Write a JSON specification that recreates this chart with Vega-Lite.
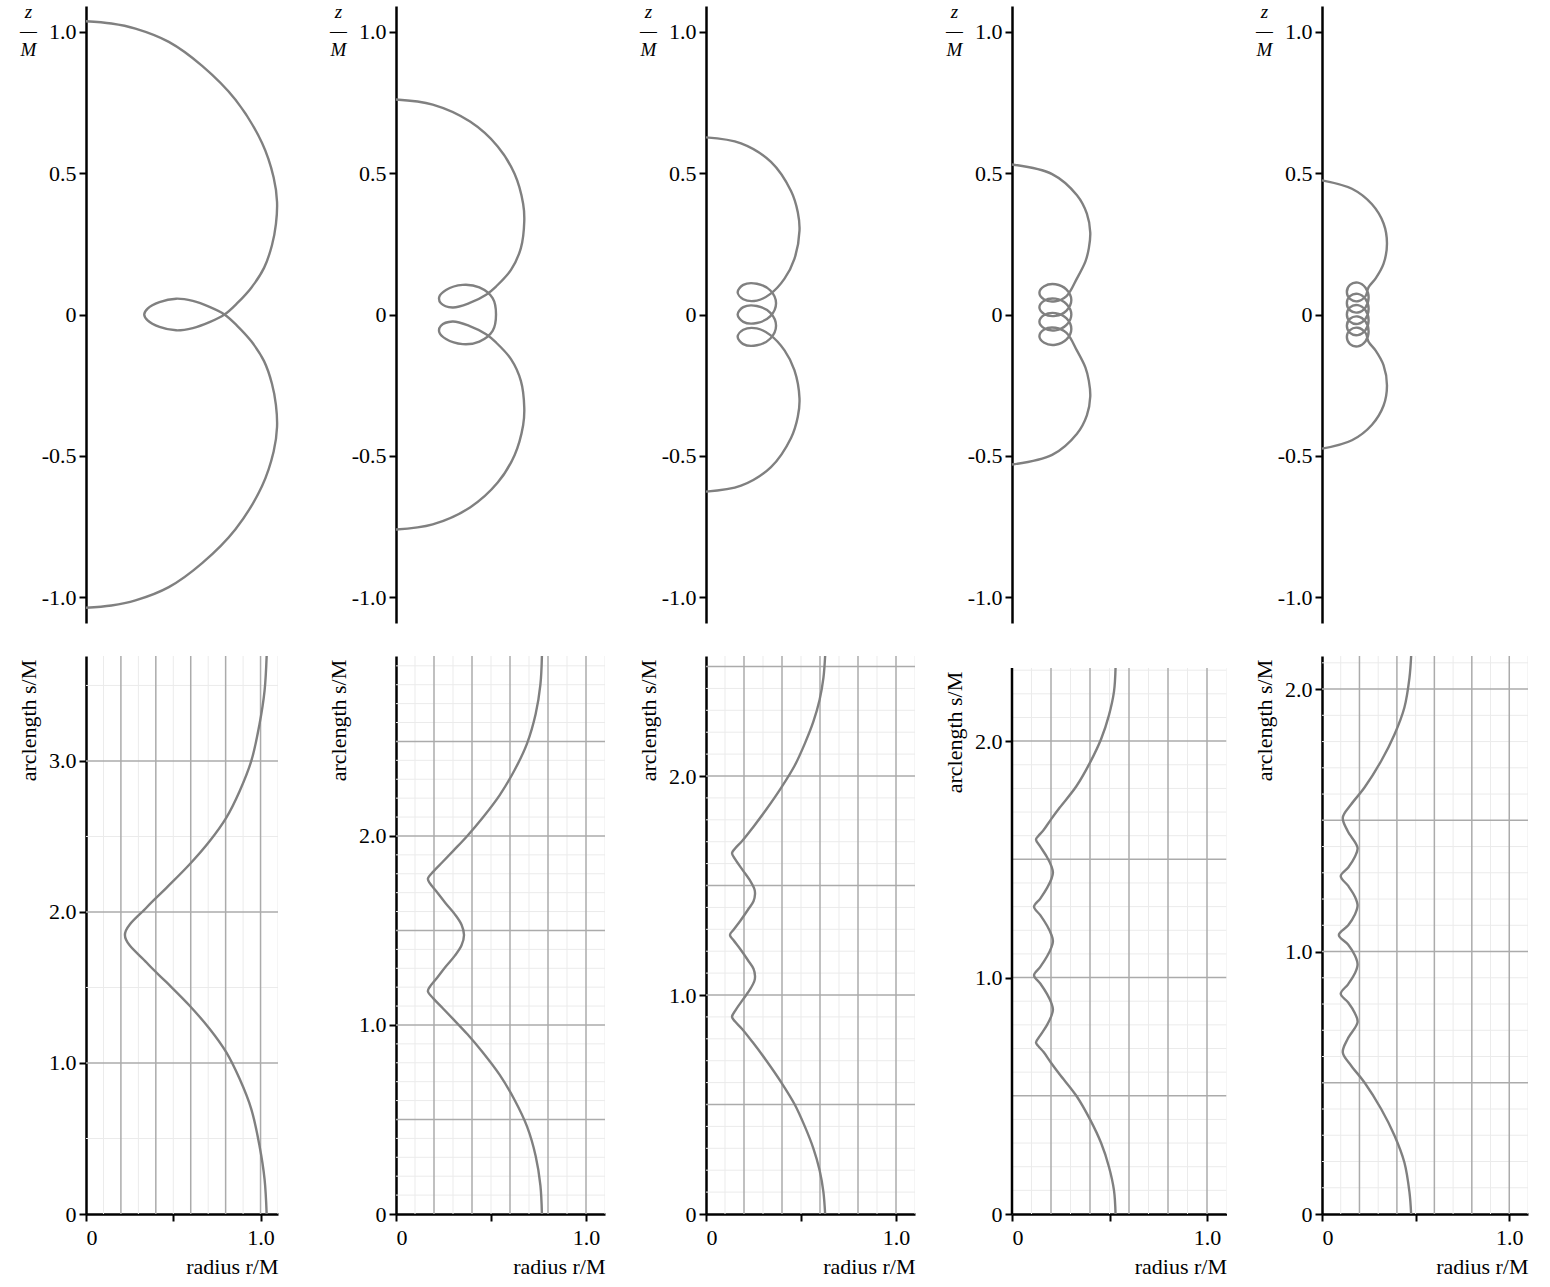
{
"$schema":"https://vega.github.io/schema/vega-lite/v6.json",
"background":"white",
"padding":{"left":17,"top":2,"right":5,"bottom":5},
"datasets":{
"top1":[{"i":0,"r":0,"z":1.038},{"i":1,"r":0.09,"z":1.03},{"i":2,"r":0.175,"z":1.012},{"i":3,"r":0.293,"z":0.965},{"i":4,"r":0.411,"z":0.88},{"i":5,"r":0.529,"z":0.76},{"i":6,"r":0.623,"z":0.607},{"i":7,"r":0.664,"z":0.485},{"i":8,"r":0.676,"z":0.398},{"i":9,"r":0.672,"z":0.32},{"i":10,"r":0.658,"z":0.245},{"i":11,"r":0.63,"z":0.165},{"i":12,"r":0.585,"z":0.095},{"i":13,"r":0.535,"z":0.04},{"i":14,"r":0.49,"z":0},{"i":15,"r":0.437,"z":-0.027},{"i":16,"r":0.378,"z":-0.048},{"i":17,"r":0.319,"z":-0.056},{"i":18,"r":0.26,"z":-0.044},{"i":19,"r":0.218,"z":-0.021},{"i":20,"r":0.206,"z":0},{"i":21,"r":0.218,"z":0.021},{"i":22,"r":0.26,"z":0.044},{"i":23,"r":0.319,"z":0.056},{"i":24,"r":0.378,"z":0.048},{"i":25,"r":0.437,"z":0.027},{"i":26,"r":0.49,"z":0},{"i":27,"r":0.535,"z":-0.04},{"i":28,"r":0.585,"z":-0.095},{"i":29,"r":0.63,"z":-0.165},{"i":30,"r":0.658,"z":-0.245},{"i":31,"r":0.672,"z":-0.32},{"i":32,"r":0.676,"z":-0.398},{"i":33,"r":0.664,"z":-0.485},{"i":34,"r":0.623,"z":-0.607},{"i":35,"r":0.529,"z":-0.76},{"i":36,"r":0.411,"z":-0.88},{"i":37,"r":0.293,"z":-0.965},{"i":38,"r":0.175,"z":-1.012},{"i":39,"r":0.09,"z":-1.03},{"i":40,"r":0,"z":-1.038}],
"top2":[{"i":0,"r":0,"z":0.761},{"i":1,"r":0.13,"z":0.743},{"i":2,"r":0.262,"z":0.683},{"i":3,"r":0.36,"z":0.595},{"i":4,"r":0.42,"z":0.497},{"i":5,"r":0.45,"z":0.392},{"i":6,"r":0.454,"z":0.33},{"i":7,"r":0.442,"z":0.235},{"i":8,"r":0.407,"z":0.158},{"i":9,"r":0.354,"z":0.099},{"i":10,"r":0.319,"z":0.07},{"i":11,"r":0.259,"z":0.04},{"i":12,"r":0.2,"z":0.025},{"i":13,"r":0.159,"z":0.04},{"i":14,"r":0.153,"z":0.062},{"i":15,"r":0.177,"z":0.087},{"i":16,"r":0.236,"z":0.105},{"i":17,"r":0.295,"z":0.096},{"i":18,"r":0.342,"z":0.058},{"i":19,"r":0.354,"z":0},{"i":20,"r":0.342,"z":-0.058},{"i":21,"r":0.295,"z":-0.096},{"i":22,"r":0.236,"z":-0.105},{"i":23,"r":0.177,"z":-0.087},{"i":24,"r":0.153,"z":-0.062},{"i":25,"r":0.159,"z":-0.04},{"i":26,"r":0.2,"z":-0.025},{"i":27,"r":0.259,"z":-0.04},{"i":28,"r":0.319,"z":-0.07},{"i":29,"r":0.354,"z":-0.099},{"i":30,"r":0.407,"z":-0.158},{"i":31,"r":0.442,"z":-0.235},{"i":32,"r":0.454,"z":-0.33},{"i":33,"r":0.45,"z":-0.392},{"i":34,"r":0.42,"z":-0.497},{"i":35,"r":0.36,"z":-0.595},{"i":36,"r":0.262,"z":-0.683},{"i":37,"r":0.13,"z":-0.743},{"i":38,"r":0,"z":-0.761}],
"top3":[{"i":0,"r":0,"z":0.627},{"i":1,"r":0.124,"z":0.606},{"i":2,"r":0.23,"z":0.54},{"i":3,"r":0.301,"z":0.437},{"i":4,"r":0.325,"z":0.362},{"i":5,"r":0.331,"z":0.297},{"i":6,"r":0.313,"z":0.197},{"i":7,"r":0.278,"z":0.127},{"i":8,"r":0.228,"z":0.073},{"i":9,"r":0.18,"z":0.049},{"i":10,"r":0.132,"z":0.054},{"i":11,"r":0.112,"z":0.079},{"i":12,"r":0.132,"z":0.105},{"i":13,"r":0.18,"z":0.109},{"i":14,"r":0.228,"z":0.085},{"i":15,"r":0.248,"z":0.04},{"i":16,"r":0.228,"z":-0.006},{"i":17,"r":0.18,"z":-0.03},{"i":18,"r":0.132,"z":-0.026},{"i":19,"r":0.112,"z":0},{"i":20,"r":0.132,"z":0.026},{"i":21,"r":0.18,"z":0.03},{"i":22,"r":0.228,"z":0.006},{"i":23,"r":0.248,"z":-0.04},{"i":24,"r":0.228,"z":-0.085},{"i":25,"r":0.18,"z":-0.109},{"i":26,"r":0.132,"z":-0.105},{"i":27,"r":0.112,"z":-0.079},{"i":28,"r":0.132,"z":-0.054},{"i":29,"r":0.18,"z":-0.049},{"i":30,"r":0.228,"z":-0.073},{"i":31,"r":0.278,"z":-0.127},{"i":32,"r":0.313,"z":-0.197},{"i":33,"r":0.331,"z":-0.297},{"i":34,"r":0.325,"z":-0.362},{"i":35,"r":0.301,"z":-0.437},{"i":36,"r":0.23,"z":-0.54},{"i":37,"r":0.124,"z":-0.606},{"i":38,"r":0,"z":-0.627}],
"top4":[{"i":0,"r":0,"z":0.531},{"i":1,"r":0.142,"z":0.497},{"i":2,"r":0.23,"z":0.422},{"i":3,"r":0.265,"z":0.357},{"i":4,"r":0.277,"z":0.29},{"i":5,"r":0.272,"z":0.235},{"i":6,"r":0.26,"z":0.188},{"i":7,"r":0.23,"z":0.128},{"i":8,"r":0.193,"z":0.065},{"i":9,"r":0.154,"z":0.047},{"i":10,"r":0.114,"z":0.053},{"i":11,"r":0.097,"z":0.077},{"i":12,"r":0.114,"z":0.1},{"i":13,"r":0.154,"z":0.107},{"i":14,"r":0.193,"z":0.088},{"i":15,"r":0.21,"z":0.051},{"i":16,"r":0.193,"z":0.014},{"i":17,"r":0.154,"z":-0.005},{"i":18,"r":0.114,"z":0.002},{"i":19,"r":0.097,"z":0.026},{"i":20,"r":0.114,"z":0.049},{"i":21,"r":0.154,"z":0.056},{"i":22,"r":0.193,"z":0.037},{"i":23,"r":0.21,"z":0},{"i":24,"r":0.193,"z":-0.037},{"i":25,"r":0.154,"z":-0.056},{"i":26,"r":0.114,"z":-0.049},{"i":27,"r":0.097,"z":-0.026},{"i":28,"r":0.114,"z":-0.002},{"i":29,"r":0.154,"z":0.005},{"i":30,"r":0.193,"z":-0.014},{"i":31,"r":0.21,"z":-0.051},{"i":32,"r":0.193,"z":-0.088},{"i":33,"r":0.154,"z":-0.107},{"i":34,"r":0.114,"z":-0.1},{"i":35,"r":0.097,"z":-0.077},{"i":36,"r":0.114,"z":-0.053},{"i":37,"r":0.154,"z":-0.047},{"i":38,"r":0.193,"z":-0.065},{"i":39,"r":0.23,"z":-0.128},{"i":40,"r":0.26,"z":-0.188},{"i":41,"r":0.272,"z":-0.235},{"i":42,"r":0.277,"z":-0.29},{"i":43,"r":0.265,"z":-0.357},{"i":44,"r":0.23,"z":-0.422},{"i":45,"r":0.142,"z":-0.497},{"i":46,"r":0,"z":-0.531}],
"top5":[{"i":0,"r":0,"z":0.475},{"i":1,"r":0.106,"z":0.445},{"i":2,"r":0.177,"z":0.39},{"i":3,"r":0.218,"z":0.322},{"i":4,"r":0.23,"z":0.251},{"i":5,"r":0.218,"z":0.18},{"i":6,"r":0.19,"z":0.128},{"i":7,"r":0.165,"z":0.097},{"i":8,"r":0.154,"z":0.065},{"i":9,"r":0.127,"z":0.047},{"i":10,"r":0.099,"z":0.055},{"i":11,"r":0.088,"z":0.08},{"i":12,"r":0.099,"z":0.105},{"i":13,"r":0.127,"z":0.113},{"i":14,"r":0.154,"z":0.095},{"i":15,"r":0.165,"z":0.06},{"i":16,"r":0.154,"z":0.025},{"i":17,"r":0.127,"z":0.007},{"i":18,"r":0.099,"z":0.015},{"i":19,"r":0.088,"z":0.04},{"i":20,"r":0.099,"z":0.065},{"i":21,"r":0.127,"z":0.073},{"i":22,"r":0.154,"z":0.055},{"i":23,"r":0.165,"z":0.02},{"i":24,"r":0.154,"z":-0.015},{"i":25,"r":0.127,"z":-0.033},{"i":26,"r":0.099,"z":-0.025},{"i":27,"r":0.088,"z":0},{"i":28,"r":0.099,"z":0.025},{"i":29,"r":0.127,"z":0.033},{"i":30,"r":0.154,"z":0.015},{"i":31,"r":0.165,"z":-0.02},{"i":32,"r":0.154,"z":-0.055},{"i":33,"r":0.127,"z":-0.073},{"i":34,"r":0.099,"z":-0.065},{"i":35,"r":0.088,"z":-0.04},{"i":36,"r":0.099,"z":-0.015},{"i":37,"r":0.127,"z":-0.007},{"i":38,"r":0.154,"z":-0.025},{"i":39,"r":0.165,"z":-0.06},{"i":40,"r":0.154,"z":-0.095},{"i":41,"r":0.127,"z":-0.113},{"i":42,"r":0.099,"z":-0.105},{"i":43,"r":0.088,"z":-0.08},{"i":44,"r":0.099,"z":-0.055},{"i":45,"r":0.127,"z":-0.047},{"i":46,"r":0.154,"z":-0.065},{"i":47,"r":0.165,"z":-0.097},{"i":48,"r":0.19,"z":-0.128},{"i":49,"r":0.218,"z":-0.18},{"i":50,"r":0.23,"z":-0.251},{"i":51,"r":0.218,"z":-0.322},{"i":52,"r":0.177,"z":-0.39},{"i":53,"r":0.106,"z":-0.445},{"i":54,"r":0,"z":-0.475}],
"bot1":[{"i":0,"R":1.035,"s":0},{"i":1,"R":1.023,"s":0.231},{"i":2,"R":0.994,"s":0.452},{"i":3,"R":0.947,"s":0.695},{"i":4,"R":0.88,"s":0.895},{"i":5,"R":0.804,"s":1.07},{"i":6,"R":0.709,"s":1.225},{"i":7,"R":0.594,"s":1.379},{"i":8,"R":0.461,"s":1.535},{"i":9,"R":0.347,"s":1.665},{"i":10,"R":0.223,"s":1.848},{"i":11,"R":0.347,"s":2.03},{"i":12,"R":0.461,"s":2.16},{"i":13,"R":0.594,"s":2.316},{"i":14,"R":0.709,"s":2.47},{"i":15,"R":0.804,"s":2.625},{"i":16,"R":0.88,"s":2.8},{"i":17,"R":0.947,"s":3.0},{"i":18,"R":0.994,"s":3.243},{"i":19,"R":1.023,"s":3.464},{"i":20,"R":1.035,"s":3.695}],
"bot2":[{"i":0,"R":0.768,"s":0},{"i":1,"R":0.76,"s":0.152},{"i":2,"R":0.735,"s":0.307},{"i":3,"R":0.69,"s":0.462},{"i":4,"R":0.625,"s":0.602},{"i":5,"R":0.545,"s":0.737},{"i":6,"R":0.455,"s":0.857},{"i":7,"R":0.375,"s":0.952},{"i":8,"R":0.305,"s":1.027},{"i":9,"R":0.245,"s":1.09},{"i":10,"R":0.195,"s":1.142},{"i":11,"R":0.168,"s":1.178},{"i":12,"R":0.178,"s":1.202},{"i":13,"R":0.21,"s":1.242},{"i":14,"R":0.26,"s":1.307},{"i":15,"R":0.31,"s":1.367},{"i":16,"R":0.345,"s":1.422},{"i":17,"R":0.358,"s":1.476},{"i":18,"R":0.345,"s":1.53},{"i":19,"R":0.31,"s":1.585},{"i":20,"R":0.26,"s":1.645},{"i":21,"R":0.21,"s":1.71},{"i":22,"R":0.178,"s":1.75},{"i":23,"R":0.168,"s":1.774},{"i":24,"R":0.195,"s":1.81},{"i":25,"R":0.245,"s":1.862},{"i":26,"R":0.305,"s":1.925},{"i":27,"R":0.375,"s":2.0},{"i":28,"R":0.455,"s":2.095},{"i":29,"R":0.545,"s":2.215},{"i":30,"R":0.625,"s":2.35},{"i":31,"R":0.69,"s":2.49},{"i":32,"R":0.735,"s":2.645},{"i":33,"R":0.76,"s":2.8},{"i":34,"R":0.768,"s":2.952}],
"bot3":[{"i":0,"R":0.627,"s":0},{"i":1,"R":0.618,"s":0.1},{"i":2,"R":0.598,"s":0.2},{"i":3,"R":0.565,"s":0.3},{"i":4,"R":0.52,"s":0.4},{"i":5,"R":0.467,"s":0.5},{"i":6,"R":0.397,"s":0.6},{"i":7,"R":0.318,"s":0.7},{"i":8,"R":0.245,"s":0.785},{"i":9,"R":0.19,"s":0.845},{"i":10,"R":0.152,"s":0.88},{"i":11,"R":0.137,"s":0.9},{"i":12,"R":0.155,"s":0.93},{"i":13,"R":0.195,"s":0.98},{"i":14,"R":0.235,"s":1.03},{"i":15,"R":0.255,"s":1.065},{"i":16,"R":0.258,"s":1.087},{"i":17,"R":0.25,"s":1.12},{"i":18,"R":0.22,"s":1.16},{"i":19,"R":0.18,"s":1.21},{"i":20,"R":0.145,"s":1.25},{"i":21,"R":0.126,"s":1.274},{"i":22,"R":0.145,"s":1.298},{"i":23,"R":0.18,"s":1.338},{"i":24,"R":0.22,"s":1.388},{"i":25,"R":0.25,"s":1.428},{"i":26,"R":0.258,"s":1.461},{"i":27,"R":0.255,"s":1.483},{"i":28,"R":0.235,"s":1.518},{"i":29,"R":0.195,"s":1.568},{"i":30,"R":0.155,"s":1.618},{"i":31,"R":0.137,"s":1.648},{"i":32,"R":0.152,"s":1.668},{"i":33,"R":0.19,"s":1.703},{"i":34,"R":0.245,"s":1.763},{"i":35,"R":0.318,"s":1.848},{"i":36,"R":0.397,"s":1.948},{"i":37,"R":0.467,"s":2.048},{"i":38,"R":0.52,"s":2.148},{"i":39,"R":0.565,"s":2.248},{"i":40,"R":0.598,"s":2.348},{"i":41,"R":0.618,"s":2.448},{"i":42,"R":0.627,"s":2.548}],
"bot4":[{"i":0,"R":0.531,"s":0},{"i":1,"R":0.523,"s":0.1},{"i":2,"R":0.497,"s":0.2},{"i":3,"R":0.457,"s":0.3},{"i":4,"R":0.4,"s":0.4},{"i":5,"R":0.33,"s":0.5},{"i":6,"R":0.245,"s":0.59},{"i":7,"R":0.2,"s":0.64},{"i":8,"R":0.162,"s":0.685},{"i":9,"R":0.135,"s":0.71},{"i":10,"R":0.123,"s":0.725},{"i":11,"R":0.145,"s":0.755},{"i":12,"R":0.18,"s":0.8},{"i":13,"R":0.203,"s":0.84},{"i":14,"R":0.21,"s":0.865},{"i":15,"R":0.203,"s":0.89},{"i":16,"R":0.18,"s":0.93},{"i":17,"R":0.145,"s":0.975},{"i":18,"R":0.113,"s":1.01},{"i":19,"R":0.145,"s":1.045},{"i":20,"R":0.18,"s":1.09},{"i":21,"R":0.203,"s":1.13},{"i":22,"R":0.21,"s":1.155},{"i":23,"R":0.203,"s":1.179},{"i":24,"R":0.18,"s":1.219},{"i":25,"R":0.145,"s":1.264},{"i":26,"R":0.113,"s":1.299},{"i":27,"R":0.145,"s":1.334},{"i":28,"R":0.18,"s":1.379},{"i":29,"R":0.203,"s":1.419},{"i":30,"R":0.21,"s":1.444},{"i":31,"R":0.203,"s":1.469},{"i":32,"R":0.18,"s":1.509},{"i":33,"R":0.145,"s":1.554},{"i":34,"R":0.123,"s":1.584},{"i":35,"R":0.135,"s":1.599},{"i":36,"R":0.162,"s":1.624},{"i":37,"R":0.2,"s":1.669},{"i":38,"R":0.245,"s":1.719},{"i":39,"R":0.33,"s":1.809},{"i":40,"R":0.4,"s":1.909},{"i":41,"R":0.457,"s":2.009},{"i":42,"R":0.497,"s":2.109},{"i":43,"R":0.523,"s":2.209},{"i":44,"R":0.531,"s":2.309}],
"bot5":[{"i":0,"R":0.476,"s":0},{"i":1,"R":0.467,"s":0.083},{"i":2,"R":0.44,"s":0.196},{"i":3,"R":0.387,"s":0.299},{"i":4,"R":0.316,"s":0.4},{"i":5,"R":0.226,"s":0.502},{"i":6,"R":0.155,"s":0.566},{"i":7,"R":0.111,"s":0.616},{"i":8,"R":0.137,"s":0.667},{"i":9,"R":0.19,"s":0.731},{"i":10,"R":0.175,"s":0.766},{"i":11,"R":0.14,"s":0.806},{"i":12,"R":0.1,"s":0.839},{"i":13,"R":0.14,"s":0.876},{"i":14,"R":0.175,"s":0.916},{"i":15,"R":0.19,"s":0.951},{"i":16,"R":0.175,"s":0.986},{"i":17,"R":0.14,"s":1.026},{"i":18,"R":0.09,"s":1.063},{"i":19,"R":0.14,"s":1.1},{"i":20,"R":0.175,"s":1.14},{"i":21,"R":0.19,"s":1.175},{"i":22,"R":0.175,"s":1.21},{"i":23,"R":0.14,"s":1.25},{"i":24,"R":0.1,"s":1.287},{"i":25,"R":0.14,"s":1.32},{"i":26,"R":0.175,"s":1.36},{"i":27,"R":0.19,"s":1.395},{"i":28,"R":0.137,"s":1.459},{"i":29,"R":0.111,"s":1.51},{"i":30,"R":0.155,"s":1.56},{"i":31,"R":0.226,"s":1.624},{"i":32,"R":0.316,"s":1.726},{"i":33,"R":0.387,"s":1.827},{"i":34,"R":0.44,"s":1.93},{"i":35,"R":0.467,"s":2.043},{"i":36,"R":0.476,"s":2.126}],
"gxMinor":[{"R":0.1},{"R":0.3},{"R":0.5},{"R":0.7},{"R":0.9},{"R":1.1}],
"gxMajor":[{"R":0.2},{"R":0.4},{"R":0.6},{"R":0.8},{"R":1.0}],
"gyMinorA":[{"s":0.5},{"s":1.5},{"s":2.5},{"s":3.5}],
"gyMajorA":[{"s":1},{"s":2},{"s":3}],
"gyMinorB":[{"s":0.1},{"s":0.2},{"s":0.3},{"s":0.4},{"s":0.6},{"s":0.7},{"s":0.8},{"s":0.9},{"s":1.1},{"s":1.2},{"s":1.3},{"s":1.4},{"s":1.6},{"s":1.7},{"s":1.8},{"s":1.9},{"s":2.1},{"s":2.2},{"s":2.3},{"s":2.4},{"s":2.6},{"s":2.7},{"s":2.8},{"s":2.9}],
"gyMajorB":[{"s":0.5},{"s":1},{"s":1.5},{"s":2},{"s":2.5}]
},
"bounds":"flush",
"columns":5,
"spacing":{"row":33,"column":95},
"concat":[
 {"width":214.5,"height":617,"data":{"name":"top1"},"mark":{"type":"line","clip":false},
  "encoding":{"x":{"field":"r","type":"quantitative","scale":{"domain":[0,0.759],"nice":false,"zero":false},"axis":null},
   "y":{"field":"z","type":"quantitative","scale":{"domain":[-1.092,1.092],"nice":false},"axis":{"values":[-1,-0.5,0,0.5,1],"labelExpr":"datum.value==0?'0':(datum.value<0?'-'+format(-datum.value,'.1f'):format(datum.value,'.1f'))","title":["z","—","M"],"titleAngle":0,"titleX":-58,"titleY":5,"titleAlign":"center","titleBaseline":"middle","titleFontStyle":"italic","titleFontSize":19,"titleLineHeight":19}},
   "order":{"field":"i","type":"quantitative"}}},
 {"width":215,"height":617,"data":{"name":"top2"},"mark":{"type":"line","clip":false},
  "encoding":{"x":{"field":"r","type":"quantitative","scale":{"domain":[0,0.761],"nice":false,"zero":false},"axis":null},
   "y":{"field":"z","type":"quantitative","scale":{"domain":[-1.092,1.092],"nice":false},"axis":{"values":[-1,-0.5,0,0.5,1],"labelExpr":"datum.value==0?'0':(datum.value<0?'-'+format(-datum.value,'.1f'):format(datum.value,'.1f'))","title":["z","—","M"],"titleAngle":0,"titleX":-58,"titleY":5,"titleAlign":"center","titleBaseline":"middle","titleFontStyle":"italic","titleFontSize":19,"titleLineHeight":19}},
   "order":{"field":"i","type":"quantitative"}}},
 {"width":211,"height":617,"data":{"name":"top3"},"mark":{"type":"line","clip":false},
  "encoding":{"x":{"field":"r","type":"quantitative","scale":{"domain":[0,0.747],"nice":false,"zero":false},"axis":null},
   "y":{"field":"z","type":"quantitative","scale":{"domain":[-1.092,1.092],"nice":false},"axis":{"values":[-1,-0.5,0,0.5,1],"labelExpr":"datum.value==0?'0':(datum.value<0?'-'+format(-datum.value,'.1f'):format(datum.value,'.1f'))","title":["z","—","M"],"titleAngle":0,"titleX":-58,"titleY":5,"titleAlign":"center","titleBaseline":"middle","titleFontStyle":"italic","titleFontSize":19,"titleLineHeight":19}},
   "order":{"field":"i","type":"quantitative"}}},
 {"width":215,"height":617,"data":{"name":"top4"},"mark":{"type":"line","clip":false},
  "encoding":{"x":{"field":"r","type":"quantitative","scale":{"domain":[0,0.761],"nice":false,"zero":false},"axis":null},
   "y":{"field":"z","type":"quantitative","scale":{"domain":[-1.092,1.092],"nice":false},"axis":{"values":[-1,-0.5,0,0.5,1],"labelExpr":"datum.value==0?'0':(datum.value<0?'-'+format(-datum.value,'.1f'):format(datum.value,'.1f'))","title":["z","—","M"],"titleAngle":0,"titleX":-58,"titleY":5,"titleAlign":"center","titleBaseline":"middle","titleFontStyle":"italic","titleFontSize":19,"titleLineHeight":19}},
   "order":{"field":"i","type":"quantitative"}}},
 {"width":215,"height":617,"data":{"name":"top5"},"mark":{"type":"line","clip":false},
  "encoding":{"x":{"field":"r","type":"quantitative","scale":{"domain":[0,0.761],"nice":false,"zero":false},"axis":null},
   "y":{"field":"z","type":"quantitative","scale":{"domain":[-1.092,1.092],"nice":false},"axis":{"values":[-1,-0.5,0,0.5,1],"labelExpr":"datum.value==0?'0':(datum.value<0?'-'+format(-datum.value,'.1f'):format(datum.value,'.1f'))","title":["z","—","M"],"titleAngle":0,"titleX":-58,"titleY":5,"titleAlign":"center","titleBaseline":"middle","titleFontStyle":"italic","titleFontSize":19,"titleLineHeight":19}},
   "order":{"field":"i","type":"quantitative"}}},
 {"width":192,"height":558,"layer":[
  {"data":{"name":"gxMinor"},"mark":{"type":"rule","color":"#ebebeb","strokeWidth":1,"clip":true},"encoding":{"x":{"field":"R","type":"quantitative","scale":{"domain":[0,1.1],"nice":false}}}},
  {"data":{"name":"gyMinorA"},"mark":{"type":"rule","color":"#ebebeb","strokeWidth":1,"clip":true},"encoding":{"y":{"field":"s","type":"quantitative","scale":{"domain":[0,3.695],"nice":false}}}},
  {"data":{"name":"gxMajor"},"mark":{"type":"rule","color":"#ababab","strokeWidth":1.5,"clip":true},"encoding":{"x":{"field":"R","type":"quantitative","scale":{"domain":[0,1.1],"nice":false}}}},
  {"data":{"name":"gyMajorA"},"mark":{"type":"rule","color":"#ababab","strokeWidth":1.5,"clip":true},"encoding":{"y":{"field":"s","type":"quantitative","scale":{"domain":[0,3.695],"nice":false}}}},
  {"data":{"name":"bot1"},"mark":{"type":"line"},"encoding":{
   "x":{"field":"R","type":"quantitative","scale":{"domain":[0,1.1],"nice":false},"axis":{"values":[0,0.5,1],"labelExpr":"datum.value==0?'0':(datum.value==1?'1.0':'')","title":"radius  r/M","titleX":192,"titleY":52,"titleAlign":"right","titleBaseline":"middle","labelPadding":6}},
   "y":{"field":"s","type":"quantitative","scale":{"domain":[0,3.695],"nice":false},"axis":{"values":[0,1,2,3],"labelExpr":"datum.value==0?'0':format(datum.value,'.1f')","title":"arclength  s/M","titleX":-58,"titleY":64,"titleAlign":"center","titleBaseline":"middle","titleAngle":-90}},
   "order":{"field":"i","type":"quantitative"}}}
 ]},
 {"width":209,"height":558,"layer":[
  {"data":{"name":"gxMinor"},"mark":{"type":"rule","color":"#ebebeb","strokeWidth":1,"clip":true},"encoding":{"x":{"field":"R","type":"quantitative","scale":{"domain":[0,1.1],"nice":false}}}},
  {"data":{"name":"gyMinorB"},"mark":{"type":"rule","color":"#ebebeb","strokeWidth":1,"clip":true},"encoding":{"y":{"field":"s","type":"quantitative","scale":{"domain":[0,2.952],"nice":false}}}},
  {"data":{"name":"gxMajor"},"mark":{"type":"rule","color":"#ababab","strokeWidth":1.5,"clip":true},"encoding":{"x":{"field":"R","type":"quantitative","scale":{"domain":[0,1.1],"nice":false}}}},
  {"data":{"name":"gyMajorB"},"mark":{"type":"rule","color":"#ababab","strokeWidth":1.5,"clip":true},"encoding":{"y":{"field":"s","type":"quantitative","scale":{"domain":[0,2.952],"nice":false}}}},
  {"data":{"name":"bot2"},"mark":{"type":"line"},"encoding":{
   "x":{"field":"R","type":"quantitative","scale":{"domain":[0,1.1],"nice":false},"axis":{"values":[0,0.5,1],"labelExpr":"datum.value==0?'0':(datum.value==1?'1.0':'')","title":"radius  r/M","titleX":209,"titleY":52,"titleAlign":"right","titleBaseline":"middle","labelPadding":6}},
   "y":{"field":"s","type":"quantitative","scale":{"domain":[0,2.952],"nice":false},"axis":{"values":[0,1,2],"labelExpr":"datum.value==0?'0':format(datum.value,'.1f')","title":"arclength  s/M","titleX":-58,"titleY":64,"titleAlign":"center","titleBaseline":"middle","titleAngle":-90}},
   "order":{"field":"i","type":"quantitative"}}}
 ]},
 {"width":209,"height":558,"layer":[
  {"data":{"name":"gxMinor"},"mark":{"type":"rule","color":"#ebebeb","strokeWidth":1,"clip":true},"encoding":{"x":{"field":"R","type":"quantitative","scale":{"domain":[0,1.1],"nice":false}}}},
  {"data":{"name":"gyMinorB"},"mark":{"type":"rule","color":"#ebebeb","strokeWidth":1,"clip":true},"encoding":{"y":{"field":"s","type":"quantitative","scale":{"domain":[0,2.548],"nice":false}}}},
  {"data":{"name":"gxMajor"},"mark":{"type":"rule","color":"#ababab","strokeWidth":1.5,"clip":true},"encoding":{"x":{"field":"R","type":"quantitative","scale":{"domain":[0,1.1],"nice":false}}}},
  {"data":{"name":"gyMajorB"},"mark":{"type":"rule","color":"#ababab","strokeWidth":1.5,"clip":true},"encoding":{"y":{"field":"s","type":"quantitative","scale":{"domain":[0,2.548],"nice":false}}}},
  {"data":{"name":"bot3"},"mark":{"type":"line"},"encoding":{
   "x":{"field":"R","type":"quantitative","scale":{"domain":[0,1.1],"nice":false},"axis":{"values":[0,0.5,1],"labelExpr":"datum.value==0?'0':(datum.value==1?'1.0':'')","title":"radius  r/M","titleX":209,"titleY":52,"titleAlign":"right","titleBaseline":"middle","labelPadding":6}},
   "y":{"field":"s","type":"quantitative","scale":{"domain":[0,2.548],"nice":false},"axis":{"values":[0,1,2],"labelExpr":"datum.value==0?'0':format(datum.value,'.1f')","title":"arclength  s/M","titleX":-58,"titleY":64,"titleAlign":"center","titleBaseline":"middle","titleAngle":-90}},
   "order":{"field":"i","type":"quantitative"}}}
 ]},
 {"width":214.5,"height":558,"layer":[
  {"data":{"name":"gxMinor"},"mark":{"type":"rule","color":"#ebebeb","strokeWidth":1,"clip":true},"encoding":{"x":{"field":"R","type":"quantitative","scale":{"domain":[0,1.1],"nice":false}},"y":{"datum":0},"y2":{"datum":2.309}}},
  {"data":{"name":"gyMinorB"},"mark":{"type":"rule","color":"#ebebeb","strokeWidth":1,"clip":true},"encoding":{"y":{"field":"s","type":"quantitative","scale":{"domain":[0,2.36],"nice":false}}}},
  {"data":{"name":"gxMajor"},"mark":{"type":"rule","color":"#ababab","strokeWidth":1.5,"clip":true},"encoding":{"x":{"field":"R","type":"quantitative","scale":{"domain":[0,1.1],"nice":false}},"y":{"datum":0},"y2":{"datum":2.309}}},
  {"data":{"name":"gyMajorB"},"mark":{"type":"rule","color":"#ababab","strokeWidth":1.5,"clip":true},"encoding":{"y":{"field":"s","type":"quantitative","scale":{"domain":[0,2.36],"nice":false}}}},
  {"data":{"name":"bot4"},"mark":{"type":"line"},"encoding":{
   "x":{"field":"R","type":"quantitative","scale":{"domain":[0,1.1],"nice":false},"axis":{"values":[0,0.5,1],"labelExpr":"datum.value==0?'0':(datum.value==1?'1.0':'')","title":"radius  r/M","titleX":214.5,"titleY":52,"titleAlign":"right","titleBaseline":"middle","labelPadding":6}},
   "y":{"field":"s","type":"quantitative","scale":{"domain":[0,2.36],"nice":false},"axis":{"values":[0,1,2],"domain":false,"labelExpr":"datum.value==0?'0':format(datum.value,'.1f')","title":"arclength  s/M","titleX":-58,"titleY":76,"titleAlign":"center","titleBaseline":"middle","titleAngle":-90}},
   "order":{"field":"i","type":"quantitative"}}},
  {"data":{"values":[{"a":1}]},"mark":{"type":"rule","color":"#000","strokeWidth":2.5},"encoding":{"x":{"datum":0},"y":{"datum":0},"y2":{"datum":2.309}}}
 ]},
 {"width":206,"height":558,"layer":[
  {"data":{"name":"gxMinor"},"mark":{"type":"rule","color":"#ebebeb","strokeWidth":1,"clip":true},"encoding":{"x":{"field":"R","type":"quantitative","scale":{"domain":[0,1.1],"nice":false}}}},
  {"data":{"name":"gyMinorB"},"mark":{"type":"rule","color":"#ebebeb","strokeWidth":1,"clip":true},"encoding":{"y":{"field":"s","type":"quantitative","scale":{"domain":[0,2.126],"nice":false}}}},
  {"data":{"name":"gxMajor"},"mark":{"type":"rule","color":"#ababab","strokeWidth":1.5,"clip":true},"encoding":{"x":{"field":"R","type":"quantitative","scale":{"domain":[0,1.1],"nice":false}}}},
  {"data":{"name":"gyMajorB"},"mark":{"type":"rule","color":"#ababab","strokeWidth":1.5,"clip":true},"encoding":{"y":{"field":"s","type":"quantitative","scale":{"domain":[0,2.126],"nice":false}}}},
  {"data":{"name":"bot5"},"mark":{"type":"line"},"encoding":{
   "x":{"field":"R","type":"quantitative","scale":{"domain":[0,1.1],"nice":false},"axis":{"values":[0,0.5,1],"labelExpr":"datum.value==0?'0':(datum.value==1?'1.0':'')","title":"radius  r/M","titleX":206,"titleY":52,"titleAlign":"right","titleBaseline":"middle","labelPadding":6}},
   "y":{"field":"s","type":"quantitative","scale":{"domain":[0,2.126],"nice":false},"axis":{"values":[0,1,2],"labelExpr":"datum.value==0?'0':format(datum.value,'.1f')","title":"arclength  s/M","titleX":-58,"titleY":64,"titleAlign":"center","titleBaseline":"middle","titleAngle":-90}},
   "order":{"field":"i","type":"quantitative"}}}
 ]}
],
"config":{
 "view":{"stroke":null},
 "font":"Liberation Serif",
 "axis":{"labelFont":"Liberation Serif","titleFont":"Liberation Serif","labelFontSize":22,"titleFontSize":22,"labelColor":"#000","titleColor":"#000","domainColor":"#000","tickColor":"#000","domainWidth":2.5,"tickWidth":2,"tickSize":7,"labelPadding":3,"grid":false,"titleFontWeight":"normal","zindex":1},
 "line":{"color":"#808080","strokeWidth":2.4,"interpolate":"catmull-rom"}
}
}
